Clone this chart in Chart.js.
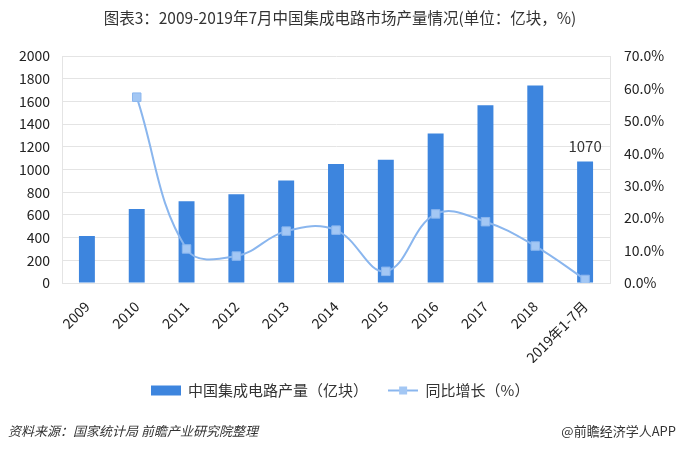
<!DOCTYPE html>
<html>
<head>
<meta charset="utf-8">
<script src="https://cdn.jsdelivr.net/npm/chart.js@4"></script>
<style>
  html, body { margin: 0; padding: 0; background: #fff; }
  #wrap { position: relative; width: 680px; height: 450px; font-family: 'Noto Sans CJK SC', 'Noto Sans', sans-serif; }
  #title { position: absolute; left: 0; top: 6px; width: 680px; text-align: center; font-size: 15.5px; color: #333; }
  #source { position: absolute; left: 8px; top: 421px; font-size: 13px; font-style: italic; color: #333; }
  #brand { position: absolute; right: 4px; top: 421px; font-size: 13px; color: #333; }
  canvas { position: absolute; left: 0; top: 0; }
</style>
</head>
<body>
<div id="wrap">
  <canvas id="icChart" width="680" height="450"></canvas>
  <div id="title">图表3：2009-2019年7月中国集成电路市场产量情况(单位：亿块，%)</div>
  <div id="source">资料来源：国家统计局 前瞻产业研究院整理</div>
  <div id="brand">@前瞻经济学人APP</div>
</div>
<script>
// data
const years = ["2009", "2010", "2011", "2012", "2013", "2014", "2015", "2016", "2017", "2018", "2019年1-7月"];
const output = [414, 653, 720, 782, 903, 1049, 1087, 1318, 1565, 1739, 1070];
const growth = [null, 57.3, 10.5, 8.3, 16.0, 16.3, 3.6, 21.3, 18.9, 11.4, 1.1];
const seriesNames = ["中国集成电路产量（亿块）", "同比增长（%）"];

const barColor = "#3d85de";
const lineColor = "#8ab6ee";
const pointFill = "#a3c7f4";
const fontFamily = "'Noto Sans CJK SC', 'Noto Sans', sans-serif";

// legend icons, one per dataset
function makeIcon(kind) {
  const c = document.createElement("canvas");
  c.width = 30;
  c.height = 12;
  const g = c.getContext("2d");
  if (kind === "bar") {
    g.fillStyle = barColor;
    g.fillRect(0, 1, 30, 10);
  } else {
    g.strokeStyle = lineColor;
    g.lineWidth = 2;
    g.beginPath();
    g.moveTo(0, 6);
    g.lineTo(30, 6);
    g.stroke();
    g.fillStyle = pointFill;
    g.fillRect(11, 2, 8, 8);
  }
  return c;
}
const icons = [makeIcon("bar"), makeIcon("line")];

// value label above the last bar
const lastLabel = {
  id: "lastLabel",
  afterDatasetsDraw(chart) {
    const meta = chart.getDatasetMeta(0);
    const bar = meta.data[meta.data.length - 1];
    const ctx = chart.ctx;
    ctx.save();
    ctx.font = "15px " + fontFamily;
    ctx.fillStyle = "#333";
    ctx.textAlign = "center";
    ctx.textBaseline = "middle";
    ctx.fillText(String(output[output.length - 1]), bar.x, bar.y - 15);
    ctx.restore();
  }
};

const chart = new Chart(document.getElementById("icChart"), {
  data: {
    labels: years,
    datasets: [
      {
        type: "bar",
        label: seriesNames[0],
        data: output,
        backgroundColor: barColor,
        categoryPercentage: 1,
        barPercentage: 0.32,
        yAxisID: "y",
        order: 1
      },
      {
        type: "line",
        label: seriesNames[1],
        data: growth,
        borderColor: lineColor,
        borderWidth: 2,
        tension: 0.4,
        pointStyle: "rect",
        pointRadius: 6,
        pointBackgroundColor: pointFill,
        pointBorderColor: lineColor,
        pointBorderWidth: 1,
        yAxisID: "y1",
        order: 0
      }
    ]
  },
  options: {
    responsive: false,
    animation: false,
    layout: { padding: { top: 56, bottom: 42, left: 0, right: 0 } },
    plugins: {
      tooltip: { enabled: false },
      legend: {
        position: "bottom",
        labels: {
          usePointStyle: true,
          pointStyleWidth: 30,
          padding: 20,
          color: "#333",
          font: { size: 15, family: fontFamily },
          sort: (a, b) => a.datasetIndex - b.datasetIndex,
          generateLabels(ch) {
            const items = Chart.defaults.plugins.legend.labels.generateLabels(ch);
            items.forEach(it => { it.pointStyle = icons[it.datasetIndex]; });
            return items;
          }
        }
      }
    },
    scales: {
      x: {
        grid: { display: false },
        border: { color: "#e4e4e4" },
        ticks: {
          color: "#222",
          padding: 7,
          font: { size: 14, family: fontFamily },
          minRotation: 45,
          maxRotation: 45,
          autoSkip: false
        },
        afterFit(s) { s.height = 80; }
      },
      y: {
        position: "left",
        min: 0,
        max: 2000,
        ticks: {
          stepSize: 200,
          color: "#222",
          padding: 12,
          font: { size: 14, family: fontFamily },
          callback: v => String(v)
        },
        grid: { color: "#e4e4e4", drawTicks: false },
        border: { color: "#e4e4e4" },
        afterFit(s) { s.width = 62; }
      },
      y1: {
        position: "right",
        min: 0,
        max: 70,
        ticks: {
          stepSize: 10,
          color: "#222",
          padding: 14,
          font: { size: 14, family: fontFamily },
          callback: v => v.toFixed(1) + "%"
        },
        grid: { display: false, drawTicks: false },
        border: { color: "#e4e4e4" },
        afterFit(s) { s.width = 70; }
      }
    }
  },
  plugins: [lastLabel]
});
</script>
</body>
</html>
